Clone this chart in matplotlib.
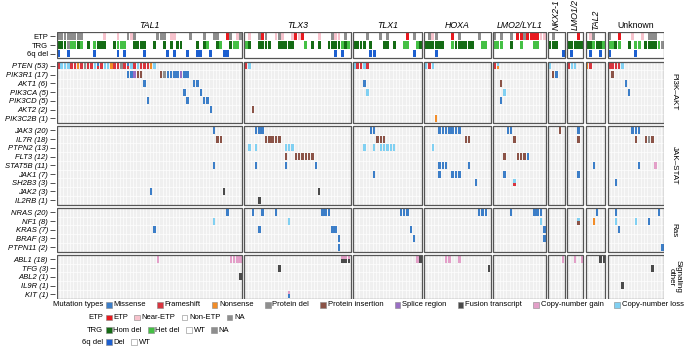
import matplotlib
matplotlib.use("Agg")
import matplotlib.pyplot as plt
from matplotlib.patches import Rectangle
from matplotlib.transforms import blended_transform_factory

plt.rcParams["font.family"] = ["Liberation Sans", "DejaVu Sans"]

# subgroups (columns) and number of samples in each
groups = ["TAL1", "TLX3", "TLX1", "HOXA", "LMO2/LYL1", "NKX2-1", "LMO1/2", "TAL2", "Unknown"]
group_sizes = [56, 32, 21, 20, 16, 5, 5, 6, 17]
rotated_titles = ["NKX2-1", "LMO1/2", "TAL2"]

# pathway blocks
pi3k_genes = ["PTEN", "PIK3R1", "AKT1", "PIK3CA", "PIK3CD", "AKT2", "PIK3C2B"]
pi3k_counts = [53, 17, 6, 5, 5, 2, 1]
jak_genes = ["JAK3", "IL7R", "PTPN2", "FLT3", "STAT5B", "JAK1", "SH2B3", "JAK2", "IL2RB"]
jak_counts = [20, 18, 13, 12, 11, 7, 3, 3, 1]
ras_genes = ["NRAS", "NF1", "KRAS", "BRAF", "PTPN11"]
ras_counts = [20, 8, 7, 3, 2]
sig_genes = ["ABL1", "TFG", "ABL2", "IL9R", "KIT"]
sig_counts = [18, 3, 1, 1, 1]
block_names = ["PI3K\u2013AKT", "JAK\u2013STAT", "Ras", "Signaling\nother"]

# events: "start:codes" runs per subgroup
# M missense, F frameshift, N nonsense, D protein del, I protein insertion,
# S splice region, T fusion transcript, G copy-number gain, L copy-number loss
# digits = two events in one cell (top, bottom)
split_cells = {"1": ("G", "T"), "2": ("G", "M"), "3": ("L", "N"), "4": ("L", "F"),
               "5": ("L", "I"), "6": ("M", "F")}

pten = {"TAL1": "0:FLLLFFNFDFFL6FLLNFFDF6LFLFFFNL", "TLX3": "0:FL", "TLX1": "0:LFFLF",
        "HOXA": "0:LFL", "LMO2/LYL1": "0:F3", "NKX2-1": "0:L", "LMO1/2": "0:FLL",
        "TAL2": "0:NF", "Unknown": "0:FFFFL"}
pik3r1 = {"TAL1": "21:MMSII 31:IDMMMMSMM", "NKX2-1": "1:IM", "Unknown": "1:I"}
akt1 = {"TAL1": "26:M 41:MM", "TLX1": "3:M", "LMO2/LYL1": "2:I", "Unknown": "5:M"}
pik3ca = {"TAL1": "38:M 43:M", "TLX1": "4:L", "LMO2/LYL1": "3:L", "Unknown": "6:M"}
pik3cd = {"TAL1": "27:M 39:M 44:MM", "LMO2/LYL1": "2:M"}
akt2 = {"TAL1": "46:M", "TLX3": "2:I"}
pik3c2b = {"HOXA": "3:N"}

jak3 = {"TAL1": "47:M", "TLX3": "3:MMM", "TLX1": "5:MM", "HOXA": "4:MMMMMMM",
        "LMO2/LYL1": "4:MM", "NKX2-1": "3:I", "LMO1/2": "3:M", "Unknown": "7:MMM"}
il7r = {"TAL1": "48:II", "TLX3": "6:IIIII", "TLX1": "7:III", "HOXA": "12:II",
        "LMO2/LYL1": "6:I", "LMO1/2": "3:I", "Unknown": "8:I 11:IDI"}
ptpn2 = {"TLX3": "1:L 3:L 12:LLL", "TLX1": "3:L 6:L 8:LLLLL", "HOXA": "2:L"}
flt3 = {"TLX3": "12:I 15:IIIIII", "LMO2/LYL1": "3:I 7:IIIM"}
stat5b = {"TAL1": "47:M", "TLX3": "3:M 12:M 21:M", "HOXA": "4:MMM 13:M", "TAL2": "2:M",
          "Unknown": "9:M 14:G"}
jak1 = {"TLX1": "6:M", "HOXA": "4:M 8:MMM", "LMO2/LYL1": "3:M", "LMO1/2": "3:M"}
sh2b3 = {"HOXA": "15:M", "LMO2/LYL1": "6:4", "Unknown": "2:M"}
jak2 = {"TAL1": "28:M 50:T", "TLX3": "22:T"}
il2rb = {"TLX3": "4:T"}

nras = {"TAL1": "51:M", "TLX3": "2:M 5:M 9:M 23:MMM", "TLX1": "14:MMM", "HOXA": "16:MMM",
        "LMO2/LYL1": "5:M 12:MMM", "TAL2": "3:M", "Unknown": "2:M 15:M"}
nf1 = {"TAL1": "47:L", "TLX3": "13:L", "LMO2/LYL1": "14:L", "LMO1/2": "3:5", "TAL2": "2:N",
       "Unknown": "2:L 8:L 12:M"}
kras = {"TAL1": "29:M", "TLX3": "4:M 26:MM", "TLX1": "17:M", "LMO2/LYL1": "15:M", "Unknown": "3:M"}
braf = {"TLX3": "28:M", "TLX1": "18:M", "LMO2/LYL1": "15:M"}
ptpn11 = {"TLX3": "28:M", "Unknown": "16:M"}

abl1 = {"TAL1": "30:G 52:GGGG", "TLX3": "29:111", "TLX1": "19:GT", "HOXA": "6:GG 10:G",
        "NKX2-1": "4:G", "LMO1/2": "2:G 4:G", "TAL2": "4:TT"}
tfg = {"TLX3": "10:T", "HOXA": "19:T", "Unknown": "13:T"}
abl2 = {"TAL1": "55:T"}
il9r = {"Unknown": "4:T"}
kit = {"TLX3": "13:2"}

# sample annotations
etp = {"TAL1": "0:AAAAAAAA 14:P 18:P 21:APA 30:AAA 34:PP 40:A 44:A 47:AA 51:EA 54:PA",
       "TLX3": "1:P 4:AEA 9:PAP 14:PEPE 22:P 26:APP 30:A",
       "TLX1": "4:A 8:A 10:A 16:E 18:A", "HOXA": "1:APA 8:E 10:A 16:A",
       "LMO2/LYL1": "0:A 2:A 5:A 7:EEAEEEEPP", "NKX2-1": "1:A", "LMO1/2": "3:E",
       "TAL2": "1:PA", "Unknown": "0:A 3:E 7:P 10:P 12:AAA"}
trg = {"TAL1": "0:HHHALLHL 9:H 11:LHHH 17:HLLL 23:HHHH 29:H 32:H 34:H 36:HH 42:H 44:HL 48:HL 52:HLL",
       "TLX3": "0:LH 4:HHHH 10:HHHHH 18:L 20:H 22:H 25:HHHHLHL",
       "TLX1": "0:HHHH 5:H 9:HH 12:H 15:LL 19:LH", "HOXA": "0:HHHH 4:HH 8:LHHHHHH 17:LL",
       "LMO2/LYL1": "0:LLL 5:H 8:L 12:LL", "NKX2-1": "0:HHH", "LMO1/2": "0:HHHHH",
       "TAL2": "0:HHLHHL", "Unknown": "0:LLHL 6:H 8:LL 11:HHHHLA"}
del6q = {"TAL1": "0:B 3:B 11:B 18:B 20:B 26:B 33:B 35:B 39:B 42:BB 46:B 50:BB",
         "TLX3": "27:B 29:B", "TLX1": "5:BB 18:B", "HOXA": "3:B", "NKX2-1": "4:B",
         "LMO1/2": "1:B", "TAL2": "1:B 4:B", "Unknown": "0:B 8:B"}

mut_labels = ["Missense", "Frameshift", "Nonsense", "Protein del", "Protein insertion",
              "Splice region", "Fusion transcript", "Copy-number gain", "Copy-number loss"]
mut_codes = ["M", "F", "N", "D", "I", "S", "T", "G", "L"]
mut_colors = ["#3c7ec8", "#d8353f", "#f28c28", "#8f8f8f", "#8b5347",
              "#9a6fc4", "#4a4a4a", "#e39fc8", "#80d0f2"]
etp_labels = ["ETP", "Near-ETP", "Non-ETP", "NA"]
etp_codes = ["E", "P", ".", "A"]
etp_colors = ["#e8191f", "#f7c2cc", "white", "#8e8e8e"]
trg_labels = ["Hom del", "Het del", "WT", "NA"]
trg_codes = ["H", "L", ".", "A"]
trg_colors = ["#146b14", "#45c045", "white", "#8e8e8e"]
q6_labels = ["Del", "WT"]
q6_codes = ["B", "."]
q6_colors = ["#1c5fd0", "white"]

FS = 5.5
LEG_FS = 5.5
TITLE_FS = 6.3
GAP_X = 0.65
GAP_Y = 0.39


def parse(runs, n):
    cells = ["."] * n
    for run in runs.split():
        start, codes = run.split(":")
        for k, c in enumerate(codes):
            cells[int(start) + k] = c
    return cells


fig = plt.figure(figsize=(6.85, 3.5), dpi=100)
lax = fig.add_axes([0, 0, 1, 1])
lax.set_xlim(0, 685)
lax.set_ylim(350, 0)
lax.axis("off")

ax = fig.add_axes([56.7 / 685, 1 - 298.6 / 350, (664 - 56.7) / 685, (298.6 - 32) / 350])
for s in ["top", "right", "bottom", "left"]:
    ax.spines[s].set_visible(False)
ax.spines["left"].set_position(("outward", 1.5))

x0 = []
pos = 0
for n in group_sizes:
    x0.append(pos)
    pos += n + GAP_X
x_total = pos - GAP_X

mut_map = dict(zip(mut_codes, mut_colors))

blocks = [(pi3k_genes, pi3k_counts, [pten, pik3r1, akt1, pik3ca, pik3cd, akt2, pik3c2b]),
          (jak_genes, jak_counts, [jak3, il7r, ptpn2, flt3, stat5b, jak1, sh2b3, jak2, il2rb]),
          (ras_genes, ras_counts, [nras, nf1, kras, braf, ptpn11]),
          (sig_genes, sig_counts, [abl1, tfg, abl2, il9r, kit])]

ticks, tick_labels = [], []

# annotation block
annots = [("ETP", etp, dict(zip(etp_codes, etp_colors))),
          ("TRG", trg, dict(zip(trg_codes, trg_colors))),
          ("6q del", del6q, dict(zip(q6_codes, q6_colors)))]
for r, (name, data, cmap) in enumerate(annots):
    ticks.append(r + 0.5)
    tick_labels.append(name)
    for gi, g in enumerate(groups):
        cells = parse(data.get(g, ""), group_sizes[gi])
        for j, c in enumerate(cells):
            if c != ".":
                ax.add_patch(Rectangle((x0[gi] + j + 0.06, r + 0.08), 0.88, 0.84,
                                       fc=cmap[c], ec="none"))
for gi, n in enumerate(group_sizes):
    ax.add_patch(Rectangle((x0[gi], 0), n, 3, fill=False, ec="#555555", lw=0.9, zorder=5))

trans = blended_transform_factory(ax.transAxes, ax.transData)
y = 3 + GAP_Y
for bi, (genes, counts, rows) in enumerate(blocks):
    nr = len(genes)
    for gi, n in enumerate(group_sizes):
        ax.add_patch(Rectangle((x0[gi], y), n, nr, fc="#efefef", ec="none", zorder=0))
        ax.vlines([x0[gi] + j for j in range(1, n)], y, y + nr, color="white", lw=0.45, zorder=1)
        ax.hlines([y + i for i in range(1, nr)], x0[gi], x0[gi] + n, color="white", lw=0.45, zorder=1)
        ax.add_patch(Rectangle((x0[gi], y), n, nr, fill=False, ec="#555555", lw=0.9, zorder=5))
    for i, (gene, cnt, row) in enumerate(zip(genes, counts, rows)):
        ticks.append(y + i + 0.5)
        tick_labels.append(f"{gene} ({cnt})")
        for gi, g in enumerate(groups):
            cells = parse(row.get(g, ""), group_sizes[gi])
            for j, c in enumerate(cells):
                if c == ".":
                    continue
                if c in split_cells:
                    top, bot = split_cells[c]
                    ax.add_patch(Rectangle((x0[gi] + j + 0.13, y + i + 0.1), 0.74, 0.4,
                                           fc=mut_map[top], ec="none", zorder=2))
                    ax.add_patch(Rectangle((x0[gi] + j + 0.13, y + i + 0.5), 0.74, 0.4,
                                           fc=mut_map[bot], ec="none", zorder=2))
                else:
                    ax.add_patch(Rectangle((x0[gi] + j + 0.13, y + i + 0.1), 0.74, 0.8,
                                           fc=mut_map[c], ec="none", zorder=2))
    ax.text(1.017, y + nr / 2, block_names[bi], transform=trans, rotation=-90,
            ha="center", va="center", fontsize=5.8, linespacing=1.0)
    y += nr + GAP_Y
y_total = y - GAP_Y

# subgroup titles
for gi, g in enumerate(groups):
    cx = x0[gi] + group_sizes[gi] / 2
    style = "normal" if g == "Unknown" else "italic"
    if g in rotated_titles:
        ax.text(cx, -0.25, g, rotation=90, ha="center", va="bottom", fontsize=TITLE_FS, style=style)
    else:
        ax.text(cx, -0.8, g, ha="center", va="center", fontsize=TITLE_FS, style=style)

ax.set_xlim(0, x_total)
ax.set_ylim(y_total, 0)
ax.set_xticks([])
ax.tick_params(axis="y", length=3.5, width=0.6, pad=1.2, color="#333333", labelsize=FS)
ax.set_yticks(ticks)
ax.set_yticklabels(tick_labels, fontsize=FS)
for lab in ax.get_yticklabels()[3:]:
    lab.set_fontstyle("italic")

# legends
renderer = fig.canvas.get_renderer()


def legend_row(yy, title, labels, colors, gap=None, right_end=None):
    lax.text(103, yy, title, ha="right", va="center", fontsize=LEG_FS)
    texts = [lax.text(0, yy, lab, ha="left", va="center", fontsize=LEG_FS) for lab in labels]
    widths = [t.get_window_extent(renderer).width for t in texts]
    if gap is None:
        gap = (right_end - 106 - sum(7.5 + w for w in widths)) / (len(labels) - 1)
    x = 106
    for t, w, col in zip(texts, widths, colors):
        lax.add_patch(Rectangle((x, yy - 2.8), 5.6, 5.6, fc=col, ec="#888888", lw=0.4))
        t.set_x(x + 7.5)
        x += 7.5 + w + gap
    return gap


legend_row(305, "Mutation types", mut_labels, mut_colors, right_end=684)
legend_row(317.5, "ETP", etp_labels, etp_colors, gap=6)
legend_row(330, "TRG", trg_labels, trg_colors, gap=6)
legend_row(342, "6q del", q6_labels, q6_colors, gap=6)

fig.savefig("out.png", dpi=100)
